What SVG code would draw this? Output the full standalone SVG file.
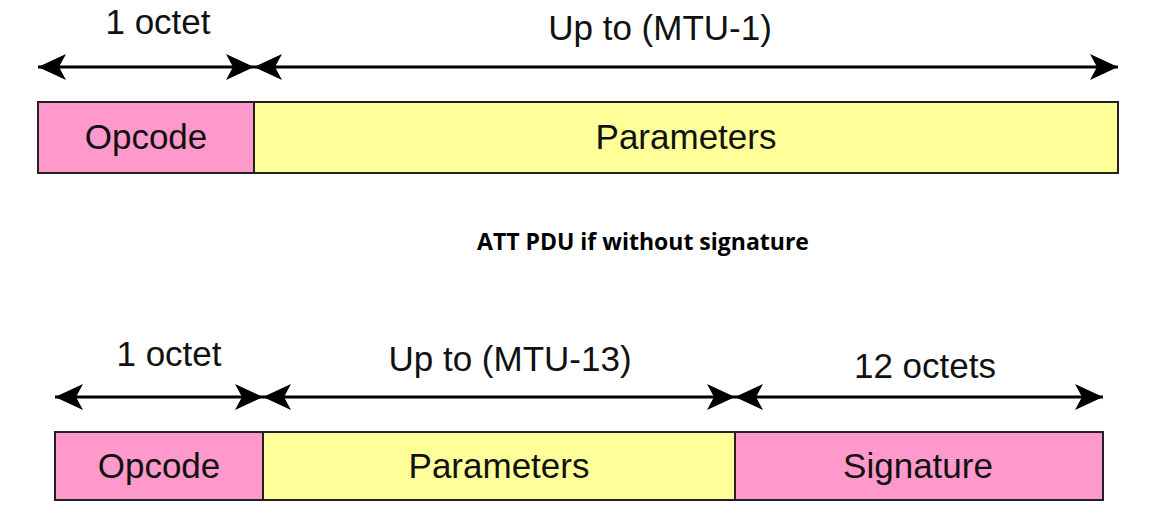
<svg xmlns="http://www.w3.org/2000/svg" width="1170" height="524" viewBox="0 0 1170 524">
<style>
.t{font-family:"Liberation Sans",Arial,sans-serif;font-size:35px;fill:#111;text-anchor:middle}
.c{font-family:"Open Sans","Liberation Sans",sans-serif;font-size:23px;font-weight:bold;fill:#000;text-anchor:middle}
.pink{fill:#FF99CC;stroke:#222;stroke-width:2}
.yel{fill:#FFFF99;stroke:#222;stroke-width:2}
.a{stroke:#000;stroke-width:3;fill:none;marker-start:url(#h);marker-end:url(#h)}
</style>
<defs>
<marker id="h" viewBox="0 0 28 26" refX="28" refY="13" markerWidth="28" markerHeight="26" markerUnits="userSpaceOnUse" orient="auto-start-reverse">
<path d="M0,0 L28,13 L0,26 L7,13 Z" fill="#000"/>
</marker>
</defs>
<rect width="1170" height="524" fill="#fff"/>
<g id="connectors">
<line class="a" x1="38" y1="67" x2="254" y2="67"/>
<line class="a" x1="254" y1="67" x2="1118" y2="67"/>
<line class="a" x1="55" y1="397" x2="263" y2="397"/>
<line class="a" x1="263" y1="397" x2="735" y2="397"/>
<line class="a" x1="735" y1="397" x2="1103" y2="397"/>
</g>
<g id="labels">
<text class="t" x="158" y="34">1 octet</text>
<text class="t" x="660" y="40">Up to (MTU-1)</text>
<text class="t" x="169" y="366">1 octet</text>
<text class="t" x="510" y="371">Up to (MTU-13)</text>
<text class="t" x="925" y="378">12 octets</text>
<text class="c" x="643" y="250">ATT PDU if without signature</text>
</g>
<g id="opcode1"><rect class="pink" x="38" y="102" width="216" height="71"/><text class="t" x="146" y="149">Opcode</text></g>
<g id="params1"><rect class="yel" x="254" y="102" width="864" height="71"/><text class="t" x="686" y="149">Parameters</text></g>
<g id="opcode2"><rect class="pink" x="55" y="432" width="208" height="68"/><text class="t" x="159" y="478">Opcode</text></g>
<g id="params2"><rect class="yel" x="263" y="432" width="472" height="68"/><text class="t" x="499" y="478">Parameters</text></g>
<g id="sig2"><rect class="pink" x="735" y="432" width="368" height="68"/><text class="t" x="918" y="478">Signature</text></g>
</svg>
